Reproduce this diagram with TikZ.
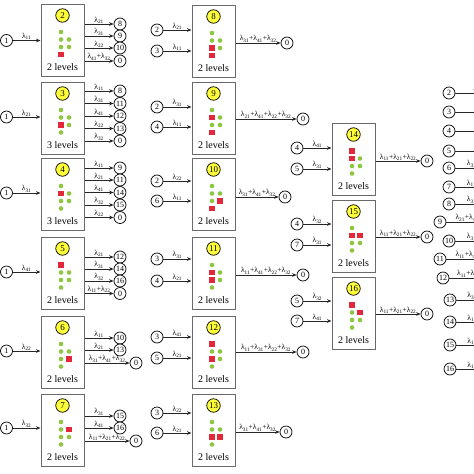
\documentclass[tikz,border=0pt]{standalone}
\usepackage{fontspec}
\setmainfont{Liberation Serif}
\usetikzlibrary{arrows.meta}
\definecolor{boxgray}{HTML}{6A6A6A}
\definecolor{dotgreen}{HTML}{8DC63F}
\definecolor{dotred}{HTML}{E4283C}
\definecolor{ylw}{HTML}{FFFF3A}
\newcommand\lam[1]{λ\textsubscript{#1}}
\newcommand\sdot[3]{\ifx#1G\fill[dotgreen] (#2,#3) circle (2.3pt);\else\fill[dotred] (#2-2.6,#3-2.6) rectangle (#2+2.6,#3+2.6);\fi}
% #1 name, #2 xleft, #3 ytop, #4 number, #5 levels
\newcommand\stbox[5]{%
  \node[sbox] (#1) at (#2+21.5,#3+36) {};
  \node[ycirc] (#1n) at (#2+21.5,#3+11.5) {#4};
  \node[lev] (#1l) at (#2+21.5,#3+63) {#5 levels};
}
\newcommand\stdots[8]{%
  \sdot{#3}{#1+20}{#2+28}
  \sdot{#4}{#1+20}{#2+35.5}
  \sdot{#5}{#1+28}{#2+35.5}
  \sdot{#6}{#1+20}{#2+43}
  \sdot{#7}{#1+28}{#2+43}
  \sdot{#8}{#1+20}{#2+50.5}
}
\newcommand\inarr[3]{\draw[arr] (#1) -- (#1 -| #2.west) node[lab,midway] {#3};}
\newcommand\outarr[3]{\draw[arr] (#1.east |- #2) -- (#2) node[lab,midway] {#3};}
\tikzset{
  sbox/.style={draw=boxgray, line width=1pt, fill=white, minimum width=43pt, minimum height=72pt, inner sep=0pt},
  ycirc/.style={circle, draw=black, line width=0.7pt, fill=ylw, minimum size=13.5pt, inner sep=0pt, font=\fontsize{9}{9}\selectfont},
  st/.style={circle, draw=black, line width=0.7pt, fill=white, minimum size=12pt, inner sep=0.3pt, font=\fontsize{8}{8}\selectfont},
  lev/.style={font=\fontsize{10}{10}\selectfont, inner sep=0pt},
  lab/.style={font=\fontsize{7.5}{7.5}\selectfont, inner sep=0.5pt, above},
  arr/.style={draw=black!85, line width=0.8pt, -{Stealth[length=4.5pt,width=3.6pt]}},
}
\begin{document}
\begin{tikzpicture}[x=1pt,y=-1pt]
\useasboundingbox (0,0) rectangle (474,474);
\clip (0,0) rectangle (474,474);
% ---------- column 1 ----------
\stbox{b2}{41}{4}{2}{2}   \stdots{41}{4}GGGGGR
\stbox{b3}{41}{82}{3}{3}  \stdots{41}{82}GGGRGG
\stbox{b4}{41}{158}{4}{3} \stdots{41}{158}GRGGGG
\stbox{b5}{41}{237}{5}{2} \stdots{41}{237}RGGGGG
\stbox{b6}{41}{316}{6}{2} \stdots{41}{316}GGGGRG
\stbox{b7}{41}{394}{7}{2} \stdots{41}{394}GGRGGG
% inputs
\node[st] (i2) at (6.5,40.5) {1};   \inarr{i2}{b2}{\lam{11}}
\node[st] (i3) at (6.5,117) {1};    \inarr{i3}{b3}{\lam{21}}
\node[st] (i4) at (6.5,193) {1};    \inarr{i4}{b4}{\lam{31}}
\node[st] (i5) at (6.5,272) {1};    \inarr{i5}{b5}{\lam{41}}
\node[st] (i6) at (6.5,351) {1};    \inarr{i6}{b6}{\lam{22}}
\node[st] (i7) at (6.5,428) {1};    \inarr{i7}{b7}{\lam{32}}
% outputs box 2
\node[st] (o2a) at (120,24) {8};  \outarr{b2}{o2a}{\lam{21}}
\node[st] (o2b) at (120,36) {9};  \outarr{b2}{o2b}{\lam{31}}
\node[st] (o2c) at (120,48) {10}; \outarr{b2}{o2c}{\lam{22}}
\node[st] (o2d) at (120,61) {0};  \outarr{b2}{o2d}{\lam{41}+\lam{32}}
% box 3
\node[st] (o3a) at (120,91) {8};    \outarr{b3}{o3a}{\lam{11}}
\node[st] (o3b) at (120,103.5) {11};\outarr{b3}{o3b}{\lam{31}}
\node[st] (o3c) at (120,116) {12};  \outarr{b3}{o3c}{\lam{41}}
\node[st] (o3d) at (120,128.5) {13};\outarr{b3}{o3d}{\lam{22}}
\node[st] (o3e) at (120,141) {0};   \outarr{b3}{o3e}{\lam{32}}
% box 4
\node[st] (o4a) at (120,168) {9};   \outarr{b4}{o4a}{\lam{11}}
\node[st] (o4b) at (120,180) {11};  \outarr{b4}{o4b}{\lam{21}}
\node[st] (o4c) at (120,192.5) {14};\outarr{b4}{o4c}{\lam{41}}
\node[st] (o4d) at (120,205) {15};  \outarr{b4}{o4d}{\lam{32}}
\node[st] (o4e) at (120,217.5) {0}; \outarr{b4}{o4e}{\lam{22}}
% box 5
\node[st] (o5a) at (120,257) {12};  \outarr{b5}{o5a}{\lam{21}}
\node[st] (o5b) at (120,269) {14};  \outarr{b5}{o5b}{\lam{31}}
\node[st] (o5c) at (120,281) {16};  \outarr{b5}{o5c}{\lam{32}}
\node[st] (o5d) at (120,293.5) {0}; \outarr{b5}{o5d}{\lam{11}+\lam{22}}
% box 6
\node[st] (o6a) at (120,338) {10};  \outarr{b6}{o6a}{\lam{11}}
\node[st] (o6b) at (120,350) {13};  \outarr{b6}{o6b}{\lam{21}}
\node[st] (o6c) at (136,363) {0};   \outarr{b6}{o6c}{\lam{31}+\lam{41}+\lam{32}}
% box 7
\node[st] (o7a) at (120,416) {15};  \outarr{b7}{o7a}{\lam{31}}
\node[st] (o7b) at (120,428) {16};  \outarr{b7}{o7b}{\lam{41}}
\node[st] (o7c) at (136,441) {0};   \outarr{b7}{o7c}{\lam{11}+\lam{21}+\lam{22}}
% ---------- column 2 ----------
\stbox{b8}{192}{5}{8}{2}     \stdots{192}{5}GGGRGR
\stbox{b9}{192}{82}{9}{2}    \stdots{192}{82}GRGGGR
\stbox{b10}{192}{158}{10}{2} \stdots{192}{158}GGGGRR
\stbox{b11}{192}{237}{11}{2} \stdots{192}{237}GRGRGG
\stbox{b12}{192}{316}{12}{2} \stdots{192}{316}RGGRGG
\stbox{b13}{192}{394}{13}{2} \stdots{192}{394}GGGRRG
\node[st] (i8a) at (157,30) {2};   \inarr{i8a}{b8}{\lam{21}}
\node[st] (i8b) at (157,51) {3};   \inarr{i8b}{b8}{\lam{11}}
\node[st] (i9a) at (157,107) {2};  \inarr{i9a}{b9}{\lam{31}}
\node[st] (i9b) at (157,127) {4};  \inarr{i9b}{b9}{\lam{11}}
\node[st] (i10a) at (157,181) {2}; \inarr{i10a}{b10}{\lam{22}}
\node[st] (i10b) at (157,201) {6}; \inarr{i10b}{b10}{\lam{11}}
\node[st] (i11a) at (157,259) {3}; \inarr{i11a}{b11}{\lam{31}}
\node[st] (i11b) at (157,281) {4}; \inarr{i11b}{b11}{\lam{21}}
\node[st] (i12a) at (157,337) {3}; \inarr{i12a}{b12}{\lam{41}}
\node[st] (i12b) at (157,358) {5}; \inarr{i12b}{b12}{\lam{21}}
\node[st] (i13a) at (157,413) {3}; \inarr{i13a}{b13}{\lam{22}}
\node[st] (i13b) at (157,433) {6}; \inarr{i13b}{b13}{\lam{21}}
\node[st] (o8) at (287,43) {0};    \outarr{b8}{o8}{\lam{31}+\lam{41}+\lam{32}}
\node[st] (o9) at (303,119) {0};   \outarr{b9}{o9}{\lam{21}+\lam{41}+\lam{22}+\lam{32}}
\node[st] (o10) at (285,197) {0};  \outarr{b10}{o10}{\lam{31}+\lam{41}+\lam{32}}
\node[st] (o11) at (303,275) {0};  \outarr{b11}{o11}{\lam{11}+\lam{41}+\lam{22}+\lam{32}}
\node[st] (o12) at (303,352) {0};  \outarr{b12}{o12}{\lam{11}+\lam{31}+\lam{22}+\lam{32}}
\node[st] (o13) at (286,432) {0};  \outarr{b13}{o13}{\lam{31}+\lam{41}+\lam{32}}
% ---------- column 3 ----------
\stbox{b14}{332}{123}{14}{2} \stdots{332}{123}RRGGGG
\stbox{b15}{332}{200}{15}{2} \stdots{332}{200}GRRGGG
\stbox{b16}{332}{277}{16}{2} \stdots{332}{277}RGRGGG
\node[st] (i14a) at (297,148) {4}; \inarr{i14a}{b14}{\lam{41}}
\node[st] (i14b) at (297,169) {5}; \inarr{i14b}{b14}{\lam{31}}
\node[st] (i15a) at (297,224) {4}; \inarr{i15a}{b15}{\lam{32}}
\node[st] (i15b) at (297,245) {7}; \inarr{i15b}{b15}{\lam{31}}
\node[st] (i16a) at (297,301) {5}; \inarr{i16a}{b16}{\lam{32}}
\node[st] (i16b) at (297,321) {7}; \inarr{i16b}{b16}{\lam{41}}
\node[st] (o14) at (427,161) {0};  \outarr{b14}{o14}{\lam{11}+\lam{21}+\lam{22}}
\node[st] (o15) at (427,237) {0};  \outarr{b15}{o15}{\lam{11}+\lam{21}+\lam{22}}
\node[st] (o16) at (427,314) {0};  \outarr{b16}{o16}{\lam{11}+\lam{21}+\lam{22}}
% ---------- right column (cut by the edge) ----------
\foreach \n/\x/\y/\t in {
  2/449/93/{\lam{41}+\lam{32}},
  3/449/112/{\lam{32}},
  4/449/131/{\lam{22}},
  5/449/151/{\lam{11}+\lam{22}},
  6/449/168/{\lam{31}+\lam{41}+\lam{32}},
  7/449/187/{\lam{11}+\lam{21}+\lam{22}},
  8/449/204/{\lam{31}+\lam{41}+\lam{32}},
  9/440/222/{\lam{21}+\lam{41}+\lam{22}+\lam{32}},
  10/449/241/{\lam{31}+\lam{41}+\lam{32}},
  11/440/259/{\lam{11}+\lam{41}+\lam{22}+\lam{32}},
  12/443/278/{\lam{11}+\lam{31}+\lam{22}+\lam{32}},
  13/450/300/{\lam{31}+\lam{41}+\lam{32}},
  14/450/322/{\lam{11}+\lam{21}+\lam{22}},
  15/450/345/{\lam{11}+\lam{21}+\lam{22}},
  16/450/369/{\lam{11}+\lam{21}+\lam{22}}}{
  \node[st] (r\n) at (\x,\y) {\n};
  \coordinate (re\n) at (515,\y);
  \draw[arr] (r\n) -- (re\n) node[lab,midway] {\t};
}
\end{tikzpicture}
\end{document}
